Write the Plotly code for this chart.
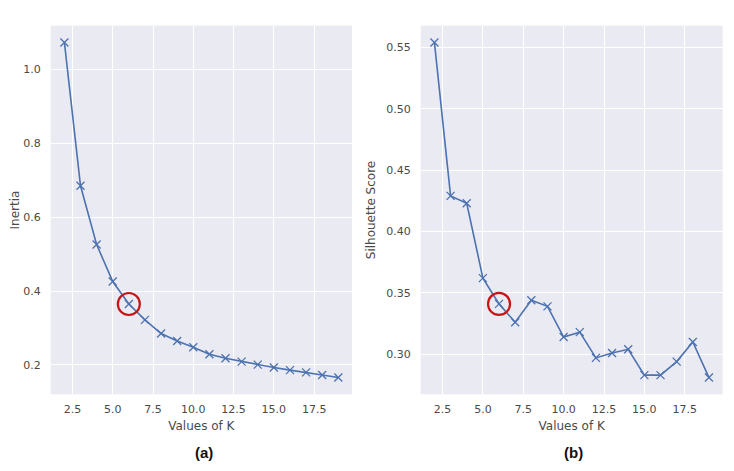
import plotly.graph_objects as go

k_values = list(range(2, 20))
inertia = [1.073, 0.685, 0.526, 0.426, 0.365, 0.322, 0.285, 0.265, 0.248,
           0.229, 0.218, 0.209, 0.201, 0.193, 0.186, 0.180, 0.173, 0.166]
silhouette = [0.554, 0.429, 0.423, 0.362, 0.341, 0.326, 0.344, 0.339, 0.314,
              0.318, 0.297, 0.301, 0.304, 0.283, 0.283, 0.294, 0.310, 0.281]
chosen_k = 6
x_ticks = [2.5, 5.0, 7.5, 10.0, 12.5, 15.0, 17.5]
inertia_ticks = [0.2, 0.4, 0.6, 0.8, 1.0]
silhouette_ticks = [0.30, 0.35, 0.40, 0.45, 0.50, 0.55]
panel_labels = ["(a)", "(b)"]

OFF = 8  # page body margin
W, H = 734 - 2 * OFF, 471 - 2 * OFF
LINE = "#4C72B0"
BG = "#EAEAF2"
TXT = "#4a4a4a"
FONT = "DejaVu Sans"

ci = k_values.index(chosen_k)

fig = go.Figure()
for i, (vals, xa, ya) in enumerate([(inertia, "x", "y"), (silhouette, "x2", "y2")]):
    fig.add_trace(go.Scatter(
        x=k_values, y=vals, xaxis=xa, yaxis=ya, mode="lines+markers",
        line=dict(color=LINE, width=1.6),
        marker=dict(symbol="x-thin", size=8, line=dict(color=LINE, width=1.3), color=LINE),
        showlegend=False, hoverinfo="x+y"))
    fig.add_trace(go.Scatter(
        x=[k_values[ci]], y=[vals[ci]], xaxis=xa, yaxis=ya, mode="markers",
        marker=dict(symbol="circle-open", size=22, line=dict(color="#c81414", width=2.2),
                    color="#c81414"),
        showlegend=False, hoverinfo="skip"))

def px(x):
    return (x - OFF) / W

def py(y):
    return 1 - (y - OFF) / H

ydom = [py(394.3), py(25.7)]
xpad = (19 - 2) * 0.05

def yr(v):
    p = (max(v) - min(v)) * 0.05
    return [min(v) - p, max(v) + p]

common_x = dict(tickvals=x_ticks, ticktext=[f"{t:.1f}" for t in x_ticks],
                range=[2 - xpad, 19 + xpad], showgrid=True, gridcolor="white",
                gridwidth=1.1, zeroline=False, showline=False, ticks="",
                ticklabelstandoff=7,
                tickfont=dict(family=FONT, size=11, color=TXT),
                title=dict(text="Values of K", font=dict(family=FONT, size=12, color=TXT),
                           standoff=6),
                automargin=False)
common_y = dict(showgrid=True, gridcolor="white", gridwidth=1.1, zeroline=False,
                showline=False, ticks="", ticklabelstandoff=9,
                tickfont=dict(family=FONT, size=11, color=TXT),
                automargin=False)

fig.update_layout(
    width=W, height=H, margin=dict(l=0, r=0, t=0, b=0),
    paper_bgcolor="white", plot_bgcolor=BG,
    font=dict(family=FONT, color=TXT),
    xaxis=dict(domain=[px(50.7), px(352)], anchor="y", **common_x),
    xaxis2=dict(domain=[px(420.7), px(722.7)], anchor="y2", **common_x),
    yaxis=dict(domain=ydom, anchor="x", range=yr(inertia), tickvals=inertia_ticks,
               ticktext=[f"{t:.1f}" for t in inertia_ticks],
               title=dict(text="Inertia", font=dict(family=FONT, size=12, color=TXT), standoff=8),
               **common_y),
    yaxis2=dict(domain=ydom, anchor="x2", range=yr(silhouette), tickvals=silhouette_ticks,
                ticktext=[f"{t:.2f}" for t in silhouette_ticks],
                title=dict(text="Silhouette Score", font=dict(family=FONT, size=12, color=TXT),
                           standoff=8),
                **common_y),
    annotations=[
        dict(text=f"<b>{panel_labels[0]}</b>", x=px(204), y=py(452), xref="paper", yref="paper",
             xanchor="center", yanchor="middle", showarrow=False,
             font=dict(family="Liberation Sans", size=15, color="#111111")),
        dict(text=f"<b>{panel_labels[1]}</b>", x=px(573), y=py(452), xref="paper", yref="paper",
             xanchor="center", yanchor="middle", showarrow=False,
             font=dict(family="Liberation Sans", size=15, color="#111111")),
    ],
)

fig.write_html("out.html")
